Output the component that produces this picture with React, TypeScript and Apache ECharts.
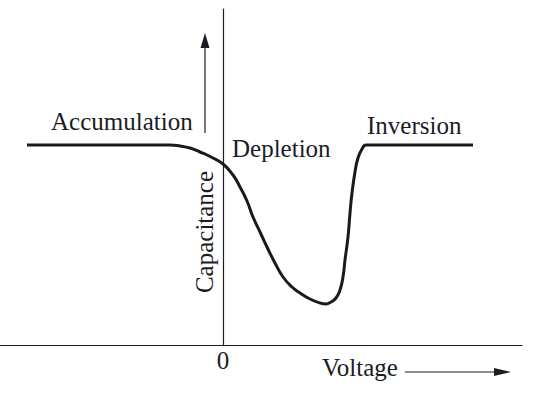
import React, { useEffect, useRef } from "react";
import * as echarts from "echarts";

// Voltage (arbitrary units) and capacitance (normalised)
const voltage = [-1.96, -0.53, -0.43, -0.33, -0.23, -0.12, 0, 0.1, 0.17, 0.24, 0.3, 0.37, 0.44, 0.52, 0.6, 0.69, 0.77, 0.87, 0.97, 1.03, 1.08, 1.13, 1.17, 1.2, 1.22, 1.25, 1.27, 1.29, 1.32, 1.35, 1.39, 1.43, 1.49, 2.5];
const capacitance = [1.0, 1.0, 0.995, 0.985, 0.965, 0.94, 0.905, 0.85, 0.79, 0.72, 0.64, 0.565, 0.49, 0.41, 0.34, 0.29, 0.26, 0.23, 0.21, 0.205, 0.215, 0.235, 0.275, 0.34, 0.425, 0.54, 0.66, 0.76, 0.865, 0.935, 0.98, 1.0, 1.0, 1.0];
const xTickLabels = [0];
const regionLabels = ["Accumulation", "Depletion", "Inversion"];

const FONT = "Liberation Serif";
const INK = "#1c1c24";

export default function App() {
  const ref = useRef<HTMLDivElement>(null);
  useEffect(() => {
    if (!ref.current) return;
    const chart = echarts.init(ref.current, undefined, { renderer: "svg" });
    const data = voltage.map((v, i) => [v, capacitance[i]]);
    const txt = (text: string) => ({ text, fontFamily: FONT, fontSize: 25, fill: INK });
    chart.setOption({
      animation: false,
      backgroundColor: "#ffffff",
      grid: { left: 0, right: 31, top: 9, bottom: 53 },
      xAxis: {
        type: "value",
        min: -2.23,
        max: 2.99,
        axisLine: { show: true, onZero: false, lineStyle: { color: INK, width: 1.2 } },
        axisTick: { show: false },
        splitLine: { show: false },
        axisLabel: {
          customValues: xTickLabels,
          formatter: (v: number) => String(v),
          fontFamily: FONT,
          fontSize: 25,
          color: INK,
          margin: 3,
        },
      },
      yAxis: {
        type: "value",
        min: 0,
        max: 1.68,
        axisLine: { show: true, onZero: true, lineStyle: { color: INK, width: 1.2 } },
        axisTick: { show: false },
        splitLine: { show: false },
        axisLabel: { show: false },
      },
      series: [
        {
          type: "line",
          data,
          smooth: 0.5,
          symbol: "none",
          lineStyle: { color: "#1a1a1a", width: 3 },
        },
      ],
      graphic: [
        { type: "text", left: 51, top: 109, style: txt(regionLabels[0]) },
        { type: "text", left: 232, top: 136, style: txt(regionLabels[1]) },
        { type: "text", left: 367, top: 113, style: txt(regionLabels[2]) },
        { type: "text", left: 322, top: 355, style: txt("Voltage") },
        {
          type: "text",
          x: 204,
          y: 232,
          rotation: Math.PI / 2,
          style: { ...txt("Capacitance"), align: "center", verticalAlign: "middle" },
        },
        { type: "line", shape: { x1: 205, y1: 133, x2: 205, y2: 46 }, style: { stroke: INK, lineWidth: 1.2 } },
        { type: "polygon", shape: { points: [[205, 33], [200.5, 48], [209.5, 48]] }, style: { fill: INK } },
        { type: "line", shape: { x1: 405, y1: 372, x2: 497, y2: 372 }, style: { stroke: INK, lineWidth: 1.2 } },
        { type: "polygon", shape: { points: [[511, 372], [494, 368], [494, 376]] }, style: { fill: INK } },
      ],
    });
    return () => chart.dispose();
  }, []);
  return <div ref={ref} style={{ position: "fixed", left: 0, top: 0, width: 553, height: 398 }} />;
}
